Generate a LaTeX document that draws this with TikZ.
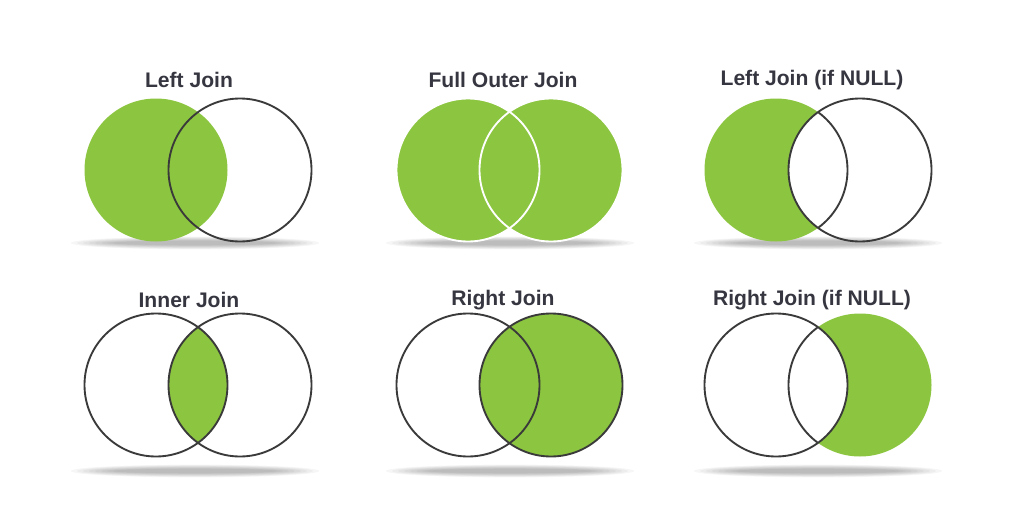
\documentclass[tikz,border=0pt]{standalone}
\usepackage{fontspec}
\setmainfont{Liberation Sans}
\definecolor{joingreen}{HTML}{8CC540}
\definecolor{ringgray}{HTML}{3A3A3A}
\definecolor{titlegray}{HTML}{363641}
\tikzset{
  title/.style={font=\fontsize{18}{21}\selectfont\bfseries, text=titlegray, inner sep=0pt},
  ring/.style={draw=ringgray, line width=1.6pt},
}
\newcommand{\joinshadow}[2]{%
  \foreach \k in {1,...,8} {
    \fill[black, opacity=0.035] (#1,#2) ellipse ({130-\k*6} and {7-\k*0.6});
  }
}
\begin{document}
\begin{tikzpicture}[x=0.03cm, y=-0.03cm]
  \useasboundingbox (0,0) rectangle (1024,505);
  \fill[white] (0,0) rectangle (1024,505);

  % Shadows
  \foreach \cx in {195,510,818} {
    \joinshadow{\cx}{243}
    \joinshadow{\cx}{471}
  }

  % Titles
  \node[title] (tleft) at (189,80) {Left Join};
  \node[title] (tfull) at (503,80) {Full Outer Join};
  \node[title] (tleftnull) at (812,80) {Left Join (if NULL)};
  \node[title] (tinner) at (189,300) {Inner Join};
  \node[title] (tright) at (503,300) {Right Join};
  \node[title] (trightnull) at (812,300) {Right Join (if NULL)};

  % Left Join
  \fill[joingreen] (156,170) circle (71.5);
  \draw[ring] (240,170) circle (71.5);

  % Full Outer Join
  \fill[joingreen] (468,170) circle (71.5);
  \fill[joingreen] (551,170) circle (71.5);
  \draw[white, line width=1.6pt] (468,170) circle (71.5);
  \draw[white, line width=1.6pt] (551,170) circle (71.5);

  % Left Join (if NULL)
  \begin{scope}[even odd rule]
    \clip (860,170) circle (71.5) (-100,-100) rectangle (1200,700);
    \fill[joingreen] (776,170) circle (71.5);
  \end{scope}
  \draw[ring] (860,170) circle (71.5);
  \begin{scope}
    \clip (860,170) circle (71.5);
    \draw[ring] (776,170) circle (71.5);
  \end{scope}

  % Inner Join
  \begin{scope}
    \clip (156,385) circle (71.5);
    \fill[joingreen] (240,385) circle (71.5);
  \end{scope}
  \draw[ring] (156,385) circle (71.5);
  \draw[ring] (240,385) circle (71.5);

  % Right Join
  \fill[joingreen] (551,385) circle (71.5);
  \draw[ring] (468,385) circle (71.5);
  \draw[ring] (551,385) circle (71.5);

  % Right Join (if NULL)
  \begin{scope}[even odd rule]
    \clip (776,385) circle (71.5) (-100,-100) rectangle (1200,700);
    \fill[joingreen] (860,385) circle (71.5);
  \end{scope}
  \draw[ring] (776,385) circle (71.5);
  \begin{scope}
    \clip (776,385) circle (71.5);
    \draw[ring] (860,385) circle (71.5);
  \end{scope}
\end{tikzpicture}
\end{document}
